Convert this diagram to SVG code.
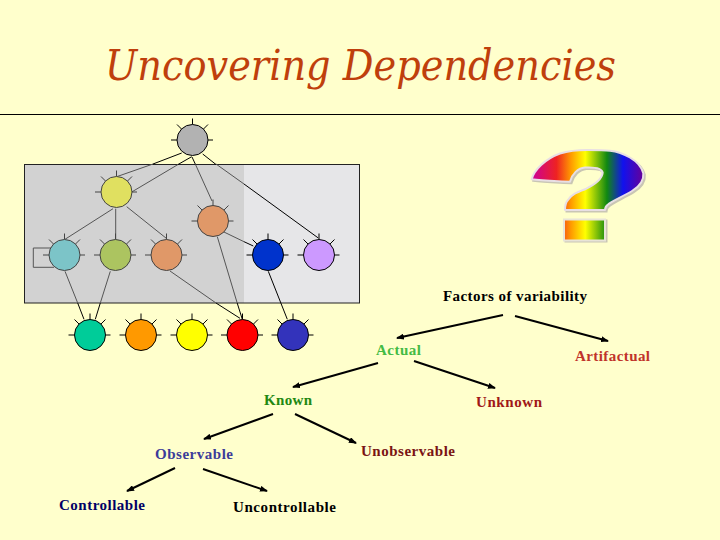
<svg xmlns="http://www.w3.org/2000/svg" width="720" height="540" viewBox="0 0 720 540">
<style>
.lbl{font-family:"Liberation Serif","Times New Roman",serif;font-weight:bold;font-size:15px}
.t{font-family:"DejaVu Serif",serif;font-style:italic;font-size:42px;fill:#bf3f0c}
.n{stroke:#000;stroke-width:1}
.d{stroke:#444;stroke-width:1}
.tick{stroke:#000;stroke-width:1;fill:none}
.tickd{stroke:#444;stroke-width:1;fill:none}
.k{stroke:#000;stroke-width:1;fill:none}
.g{stroke:#555;stroke-width:1;fill:none}
.ar{stroke:#000;stroke-width:2;fill:none;marker-end:url(#a)}
</style>
<defs>
<marker id="a" viewBox="0 0 8 6" refX="7" refY="3" markerWidth="4" markerHeight="3" orient="auto"><path d="M0 0L8 3L0 6z" fill="#000"/></marker>
<linearGradient id="rb" gradientUnits="userSpaceOnUse" x1="532" y1="0" x2="643" y2="0">
<stop offset="0" stop-color="#cc0099"/><stop offset=".22" stop-color="#ee2222"/><stop offset=".35" stop-color="#ff9900"/><stop offset=".48" stop-color="#ffff00"/><stop offset=".675" stop-color="#118811"/><stop offset=".82" stop-color="#1111ee"/><stop offset="1" stop-color="#660099"/>
</linearGradient>
<path id="qm" d="M531.700 179.300C534 170 545 159 560 153.500C570 150.500 578 150 587 150C598 150 604 150 610 150.700C622 152 640 160 643.300 173.300C644 180 640 186 632 191C622 197 612 201 608 204.500C606 206 605 208 605 210H565C565 206 566 202 568 200C572 194 578 192 585 189.300C592 186 602 180 602.700 172.700C602 168 595 167 585 167.500C578 168 572 174 570 181.700C556 181 542 181 531.700 179.300Z"/>
<g id="t"><path class="tick" d="M0-15.500V-21.500M-10.500-10.500L-15.500-15.500M10.500-10.500L15.500-15.500M-15.500 0H-21.500M15.500 0H20.500"/></g>
<g id="td"><path class="tickd" d="M0-15.500V-21.500M-10.500-10.500L-15.500-15.500M10.500-10.500L15.500-15.500M-15.500 0H-21.500M15.500 0H20.500"/></g>
</defs>
<rect width="720" height="540" fill="#ffffcc"/>
<text class="t" x="105" y="80" textLength="511" lengthAdjust="spacingAndGlyphs">Uncovering Dependencies</text>
<path d="M0 114.500H720" stroke="#000" stroke-width="1"/>
<g id="plate">
<rect x="24.500" y="164.500" width="219.500" height="138.500" fill="#d2d2d2"/>
<rect x="244" y="164.500" width="115.500" height="138.500" fill="#e6e6e8"/>
<rect x="24.500" y="164.500" width="335" height="138.500" fill="none" stroke="#222"/>
</g>
<g id="question">
<use href="#qm" x="1.500" y="1.500" fill="#c9c6b4" stroke="#c9c6b4" stroke-width="2"/>
<use href="#qm" fill="url(#rb)" stroke="#e8dfe4" stroke-width="2" stroke-linejoin="round"/>
<rect x="565.500" y="220.500" width="41" height="21" fill="#c9c6b4" stroke="#c9c6b4" stroke-width="2"/>
<rect x="564" y="219.500" width="41" height="21" fill="url(#rb)" stroke="#e8e4d8" stroke-width="2"/>
</g>
<g id="connectors">
<path class="k" d="M181.700 153L153 164"/><path class="g" d="M153 164L116.700 176.700"/>
<path class="k" d="M191.700 156.700L178 164.500"/><path class="g" d="M178 164.500L131.700 192"/>
<path class="k" d="M192 157L195.500 164.500"/><path class="g" d="M195.500 164.500L212 201"/>
<path class="k" d="M202.700 154L216 164.500"/><path class="g" d="M216 164L244 184"/><path class="k" d="M244 184L318.300 238"/>
<path class="g" d="M113 208.700L65 239.300M115.700 208.700V239.300M126.700 206.700L166.300 238.300M223.300 231.700L244 241.700"/>
<path class="k" d="M244 241.700L253.300 246"/>
<path class="g" d="M52 248H33.300V267.300H54"/>
<path class="g" d="M217.300 236.700L237.200 303"/><path class="k" d="M237.200 303L242.300 319.300"/>
<path class="g" d="M65 271.300L77.700 303"/><path class="k" d="M77.700 303L84 319.300"/>
<path class="g" d="M110.300 271.300L100.300 303"/><path class="k" d="M100.300 303L95.300 319.300"/>
<path class="g" d="M170 271L216 303"/><path class="k" d="M216 303L240 318.300"/>
<path class="k" d="M268.300 271.300L287.300 319.300"/>
<path class="ar" d="M503 315L397 338"/>
<path class="ar" d="M515 316L608 341"/>
<path class="ar" d="M378 363L293 387"/>
<path class="ar" d="M414 361L495 388"/>
<path class="ar" d="M273 414L204 439"/>
<path class="ar" d="M295 414L356 443"/>
<path class="ar" d="M175 468L127 491"/>
<path class="ar" d="M203 469L267 491"/>
</g>
<g id="n-top"><use href="#t" x="192.500" y="140"/><circle class="n" cx="192.500" cy="140" r="15.500" fill="#b2b2b2"/></g>
<g id="n-yellow"><use href="#td" x="116.500" y="192"/><circle class="d" cx="116.500" cy="192" r="15.500" fill="#e0e060"/></g>
<g id="n-orange1"><use href="#td" x="213" y="221"/><circle class="d" cx="213" cy="221" r="15.500" fill="#e09868"/></g>
<g id="n-teal"><use href="#td" x="64.500" y="255"/><circle class="d" cx="64.500" cy="255" r="15.500" fill="#7cc4c8"/></g>
<g id="n-olive"><use href="#td" x="115.500" y="255"/><circle class="d" cx="115.500" cy="255" r="15.500" fill="#acc460"/></g>
<g id="n-orange2"><use href="#td" x="166.500" y="255"/><circle class="d" cx="166.500" cy="255" r="15.500" fill="#e09868"/></g>
<g id="n-blue"><use href="#t" x="268" y="255"/><circle class="n" cx="268" cy="255" r="15.500" fill="#0033cc"/></g>
<g id="n-purple"><use href="#t" x="319" y="255"/><circle class="n" cx="319" cy="255" r="15.500" fill="#cc99ff"/></g>
<g id="n-green"><use href="#t" x="90" y="335"/><circle class="n" cx="90" cy="335" r="15.500" fill="#00cc99"/></g>
<g id="n-amber"><use href="#t" x="141" y="335"/><circle class="n" cx="141" cy="335" r="15.500" fill="#ff9900"/></g>
<g id="n-lemon"><use href="#t" x="192" y="335"/><circle class="n" cx="192" cy="335" r="15.500" fill="#ffff00"/></g>
<g id="n-red"><use href="#t" x="242.500" y="335"/><circle class="n" cx="242.500" cy="335" r="15.500" fill="#ff0000"/></g>
<g id="n-navy"><use href="#t" x="293" y="335"/><circle class="n" cx="293" cy="335" r="15.500" fill="#3333bb"/></g>
<g id="labels">
<text class="lbl" x="443" y="301" textLength="144" fill="#000">Factors of variability</text>
<text class="lbl" x="376" y="355" textLength="45" fill="#44bb44">Actual</text>
<text class="lbl" x="575" y="361" textLength="75" fill="#c0332a">Artifactual</text>
<text class="lbl" x="264" y="405" textLength="48" fill="#228811">Known</text>
<text class="lbl" x="476" y="407" textLength="66" fill="#a01818">Unknown</text>
<text class="lbl" x="155" y="459" textLength="78" fill="#3c3c99">Observable</text>
<text class="lbl" x="361" y="456" textLength="94" fill="#7a1414">Unobservable</text>
<text class="lbl" x="59" y="510" textLength="86" fill="#000066">Controllable</text>
<text class="lbl" x="233" y="512" textLength="103" fill="#000">Uncontrollable</text>
</g>
</svg>
